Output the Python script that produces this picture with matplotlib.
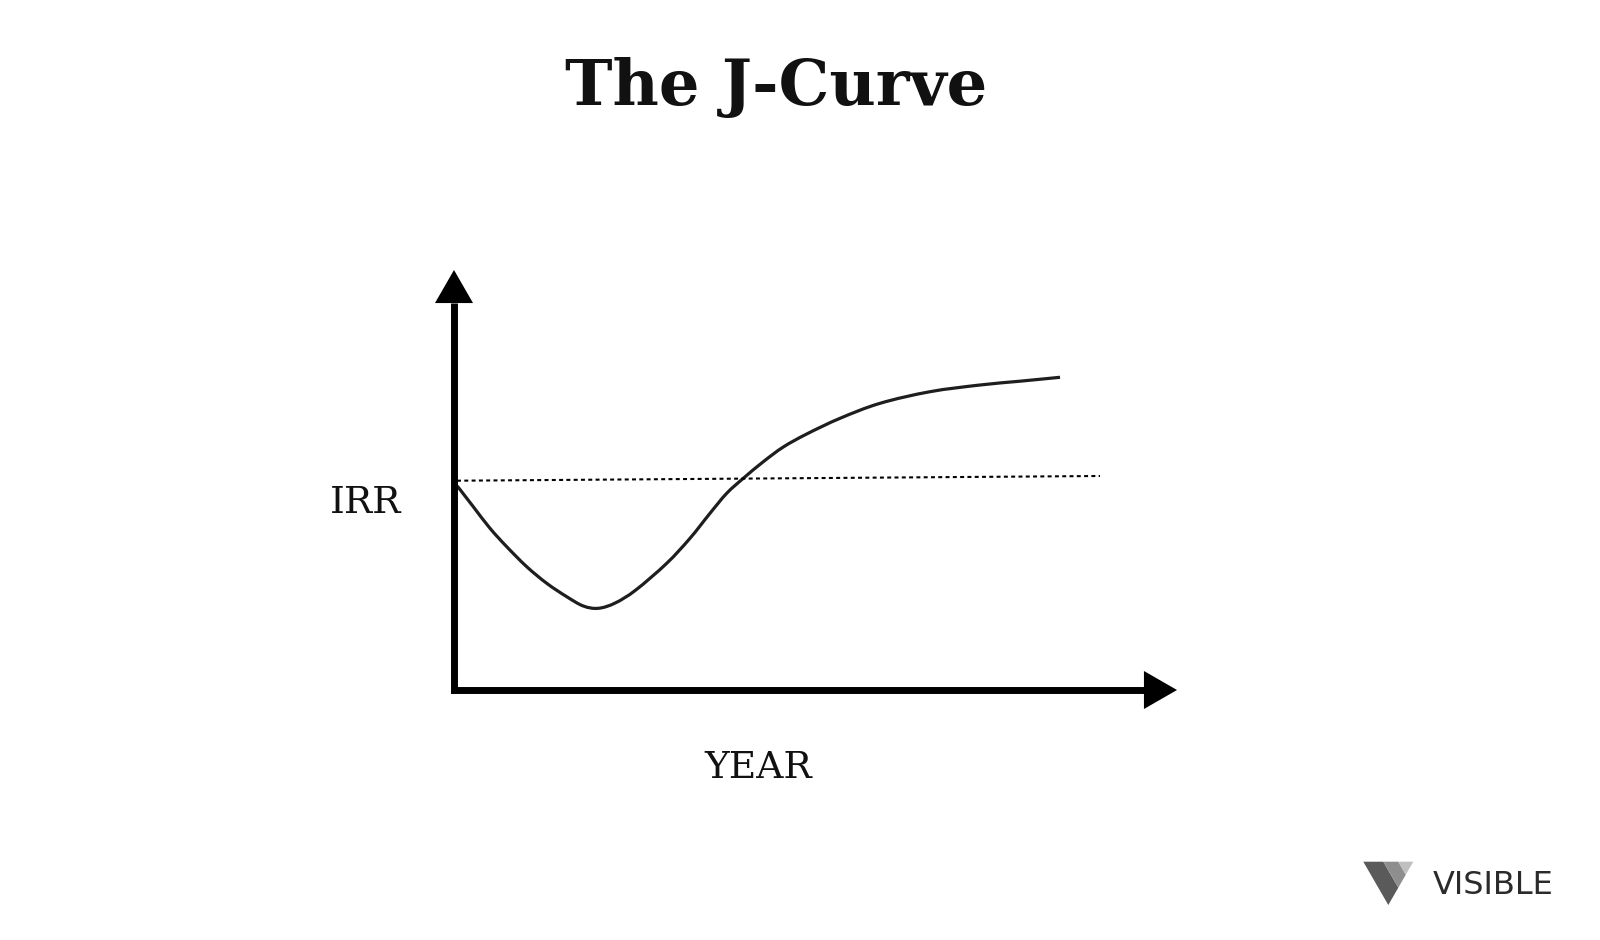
import matplotlib

matplotlib.use("Agg")
import matplotlib.pyplot as plt
from matplotlib.patches import PathPatch, Polygon
from matplotlib.path import Path
from matplotlib.transforms import Affine2D


# J-curve: year vs IRR (arbitrary %, 0 = hurdle line)
years = [0.054, 0.318, 0.594, 0.870, 1.200, 1.530, 1.860, 2.134, 2.381, 2.660,
         3.000, 3.510, 3.894, 4.224, 4.500, 4.774, 5.104, 5.434, 5.820,
         6.370, 7.030, 7.855, 8.680, 9.340, 10.000]
irr = [-0.60, -2.67, -4.83, -6.67, -8.67, -10.33, -11.67, -12.60, -12.83, -12.30,
       -11.00, -8.33, -5.83, -3.33, -1.33, 0.17, 1.83, 3.30, 4.60,
       6.17, 7.67, 8.83, 9.50, 9.88, 10.27]

# dotted IRR reference line (slightly tilted, as drawn)
hurdle_years = [0.05, 10.66]
hurdle_irr = [-0.07, 0.40]

title = "The J-Curve"
x_label = "YEAR"
y_label = "IRR"
brand = "VISIBLE"

W, H = 1600, 940


def smooth_path(xs, ys):
    # Catmull-Rom through the read points, as cubic Bezier segments
    pts = list(zip(xs, ys))
    verts = [pts[0]]
    codes = [Path.MOVETO]
    n = len(pts)
    for i in range(n - 1):
        p0 = pts[max(i - 1, 0)]
        p1 = pts[i]
        p2 = pts[i + 1]
        p3 = pts[min(i + 2, n - 1)]
        c1 = (p1[0] + (p2[0] - p0[0]) / 6, p1[1] + (p2[1] - p0[1]) / 6)
        c2 = (p2[0] - (p3[0] - p1[0]) / 6, p2[1] - (p3[1] - p1[1]) / 6)
        verts += [c1, c2, p2]
        codes += [Path.CURVE4] * 3
    return Path(verts, codes)


def main() -> None:
    fig = plt.figure(figsize=(W / 100, H / 100), dpi=100)
    fig.patch.set_facecolor("white")

    # pixel coords (y down) -> figure
    px = Affine2D().scale(1 / W, -1 / H).translate(0, 1) + fig.transFigure

    # axes box spans from the corner of the axis arrows to their tips
    x0, y0, x1, y1 = 454, 690, 1177, 270
    ax = fig.add_axes([x0 / W, 1 - y0 / H, (x1 - x0) / W, (y0 - y1) / H])
    ax.set_xlim(0, 11.93)
    ax.set_ylim(-21, 21)
    ax.axis("off")

    # axis shafts
    ax.plot([0, 0, 11.39], [17.73, -21, -21], color="black", lw=5,
            solid_joinstyle="miter", solid_capstyle="butt", clip_on=False)
    # arrow heads
    head = dict(arrowstyle="-|>,head_length=2.38,head_width=1.37",
                mutation_scale=10, lw=0, fc="black", ec="none",
                shrinkA=0, shrinkB=0)
    ax.annotate("", xy=(0, 21), xytext=(0, 17.73), arrowprops=head,
                annotation_clip=False)
    ax.annotate("", xy=(11.93, -21), xytext=(11.39, -21), arrowprops=head,
                annotation_clip=False)

    ax.plot(hurdle_years, hurdle_irr, color="black", lw=1.5,
            dashes=(1.9, 1.6), clip_on=False)
    ax.add_patch(PathPatch(smooth_path(years, irr), fc="none", ec="#1e1e1e",
                           lw=2.3, capstyle="butt", joinstyle="round",
                           clip_on=False))

    serif = ["DejaVu Serif"]
    fig.text(776, 105, title, transform=px, ha="center", va="baseline",
             fontsize=46, fontweight="bold", family=serif, color="#111111")
    fig.text(366, 513, y_label, transform=px, ha="center", va="baseline",
             fontsize=27, family=serif, color="#111111")
    fig.text(758, 778, x_label, transform=px, ha="center", va="baseline",
             fontsize=27, family=serif, color="#111111")

    # logo
    logo = [
        ([(1363.3, 861.7), (1383.3, 861.7), (1398.3, 887.7), (1388.3, 905.0)], "#5a5a5a"),
        ([(1383.3, 861.7), (1398.3, 861.7), (1405.8, 874.7), (1398.3, 887.7)], "#8e8e8e"),
        ([(1398.3, 861.7), (1413.3, 861.7), (1405.8, 874.7)], "#bfbfbf"),
    ]
    for verts, c in logo:
        fig.patches.append(Polygon(verts, closed=True, fc=c, ec="none",
                                   transform=px, figure=fig))
    fig.text(1493, 894, brand, transform=px, ha="center", va="baseline",
             fontsize=23, family=["DejaVu Sans"], color="#2b2b2b")

    fig.savefig("out.png", dpi=100, facecolor="white")


if __name__ == "__main__":
    main()
